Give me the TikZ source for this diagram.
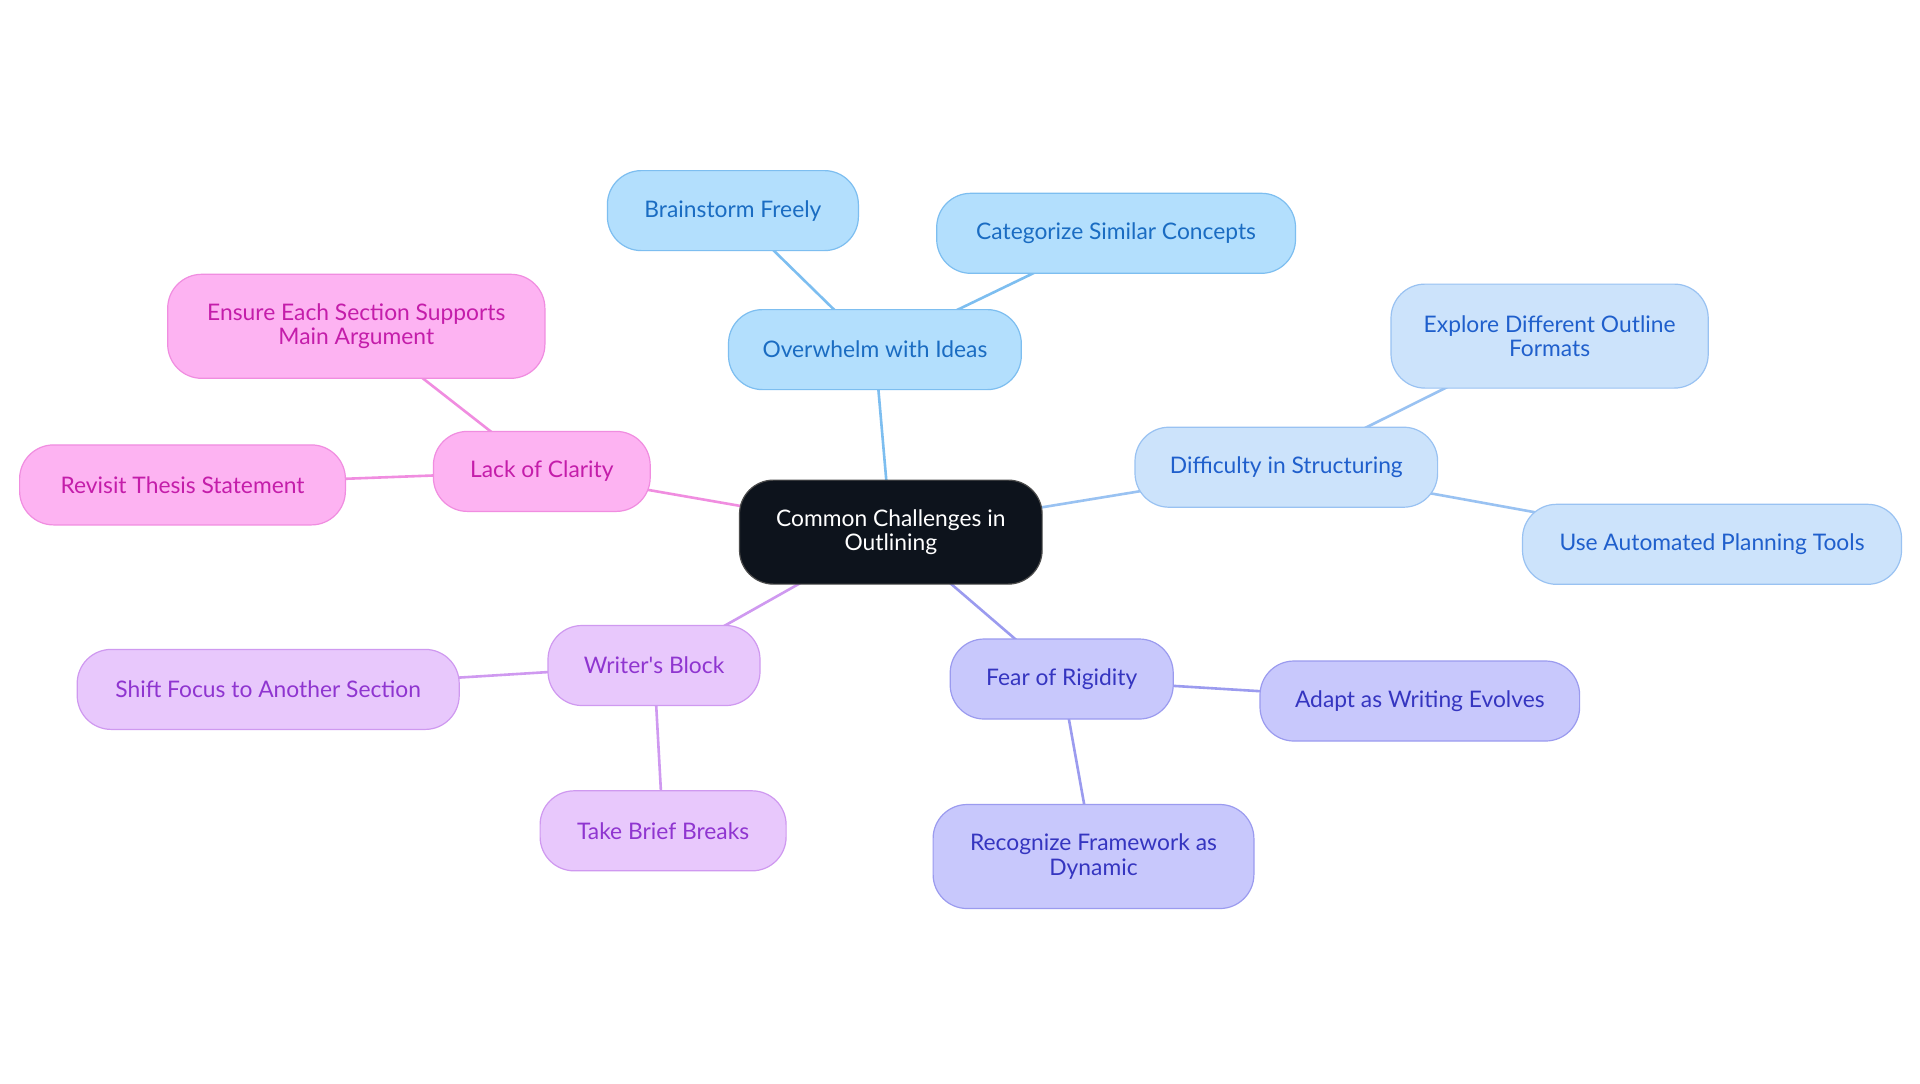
\documentclass[tikz,border=0pt]{standalone}
\usepackage{fontspec}
\setmainfont{Lato}
\usetikzlibrary{backgrounds}
\definecolor{cFillA}{HTML}{B3DFFD}\definecolor{cDrawA}{HTML}{7DBEF0}\definecolor{cTextA}{HTML}{1A6CC2}
\definecolor{cFillB}{HTML}{CCE3FB}\definecolor{cDrawB}{HTML}{99C2F2}\definecolor{cTextB}{HTML}{1F5FCC}
\definecolor{cFillC}{HTML}{C8C8FC}\definecolor{cDrawC}{HTML}{9B9BEF}\definecolor{cTextC}{HTML}{3535C0}
\definecolor{cFillD}{HTML}{E8C8FC}\definecolor{cDrawD}{HTML}{CF99F0}\definecolor{cTextD}{HTML}{8F35D0}
\definecolor{cFillE}{HTML}{FDB3F2}\definecolor{cDrawE}{HTML}{F08DE0}\definecolor{cTextE}{HTML}{C41DAA}
\definecolor{cCore}{HTML}{0D131C}
\tikzset{
  box/.style={rounded corners=17pt, line width=0.6pt, minimum height=40pt, align=center,
    inner sep=0pt, font=\fontsize{11.4}{12.2}\selectfont},
  tall/.style={minimum height=52pt},
  grpA/.style={box, fill=cFillA, draw=cDrawA, text=cTextA},
  grpB/.style={box, fill=cFillB, draw=cDrawB, text=cTextB},
  grpC/.style={box, fill=cFillC, draw=cDrawC, text=cTextC},
  grpD/.style={box, fill=cFillD, draw=cDrawD, text=cTextD},
  grpE/.style={box, fill=cFillE, draw=cDrawE, text=cTextE},
  core/.style={box, tall, fill=cCore, draw=black!70, text=white},
  linkA/.style={draw=cDrawA, line width=1.3pt},
  linkB/.style={draw=cDrawB, line width=1.3pt},
  linkC/.style={draw=cDrawC, line width=1.3pt},
  linkD/.style={draw=cDrawD, line width=1.3pt},
  linkE/.style={draw=cDrawE, line width=1.3pt},
}
\begin{document}
\begin{tikzpicture}[x=0.5pt,y=-0.5pt]
\useasboundingbox (0,0) rectangle (1920,1083);
\node[core, minimum width=151.3pt] (root) at (890.8,532.1) {Common Challenges in\\Outlining};

\node[grpA, minimum width=146.4pt] (over) at (874.9,349.6) {Overwhelm with Ideas};
\node[grpA, minimum width=125.5pt] (brain) at (732.9,210.6) {Brainstorm Freely};
\node[grpA, minimum width=179.4pt] (categ) at (1116.1,233.3) {Categorize Similar Concepts};

\node[grpB, minimum width=151.3pt] (diff) at (1286.3,467.2) {Difficulty in Structuring};
\node[grpB, tall, minimum width=158.6pt] (explore) at (1549.6,336.1) {Explore Different Outline\\Formats};
\node[grpB, minimum width=189.5pt] (auto) at (1712,544.3) {Use Automated Planning Tools};

\node[grpC, minimum width=111.5pt] (fear) at (1061.7,679) {Fear of Rigidity};
\node[grpC, minimum width=159.8pt] (adapt) at (1419.8,701) {Adapt as Writing Evolves};
\node[grpC, tall, minimum width=160.4pt] (recog) at (1093.5,856.5) {Recognize Framework as\\Dynamic};

\node[grpD, minimum width=106pt] (block) at (654,665.5) {Writer\textquotesingle s Block};
\node[grpD, minimum width=191pt] (shift) at (268.2,689.4) {Shift Focus to Another Section};
\node[grpD, minimum width=123pt] (breaks) at (663.1,830.8) {Take Brief Breaks};

\node[grpE, minimum width=108.4pt] (clar) at (541.8,471.4) {Lack of Clarity};
\node[grpE, tall, minimum width=188.6pt] (ensure) at (356.3,326.3) {Ensure Each Section Supports\\Main Argument};
\node[grpE, minimum width=162.9pt] (thesis) at (182.5,484.9) {Revisit Thesis Statement};

\begin{scope}[on background layer]
\fill[white] (0,0) rectangle (1920,1083);
\path[linkA] (root.center) -- (over.center);
\path[linkA] (over.center) -- (brain.center);
\path[linkA] (over.center) -- (categ.center);
\path[linkB] (root.center) -- (diff.center);
\path[linkB] (diff.center) -- (explore.center);
\path[linkB] (diff.center) -- (auto.center);
\path[linkC] (root.center) -- (fear.center);
\path[linkC] (fear.center) -- (adapt.center);
\path[linkC] (fear.center) -- (recog.center);
\path[linkD] (root.center) -- (block.center);
\path[linkD] (block.center) -- (shift.center);
\path[linkD] (block.center) -- (breaks.center);
\path[linkE] (root.center) -- (clar.center);
\path[linkE] (clar.center) -- (ensure.center);
\path[linkE] (clar.center) -- (thesis.center);
\end{scope}
\end{tikzpicture}
\end{document}
